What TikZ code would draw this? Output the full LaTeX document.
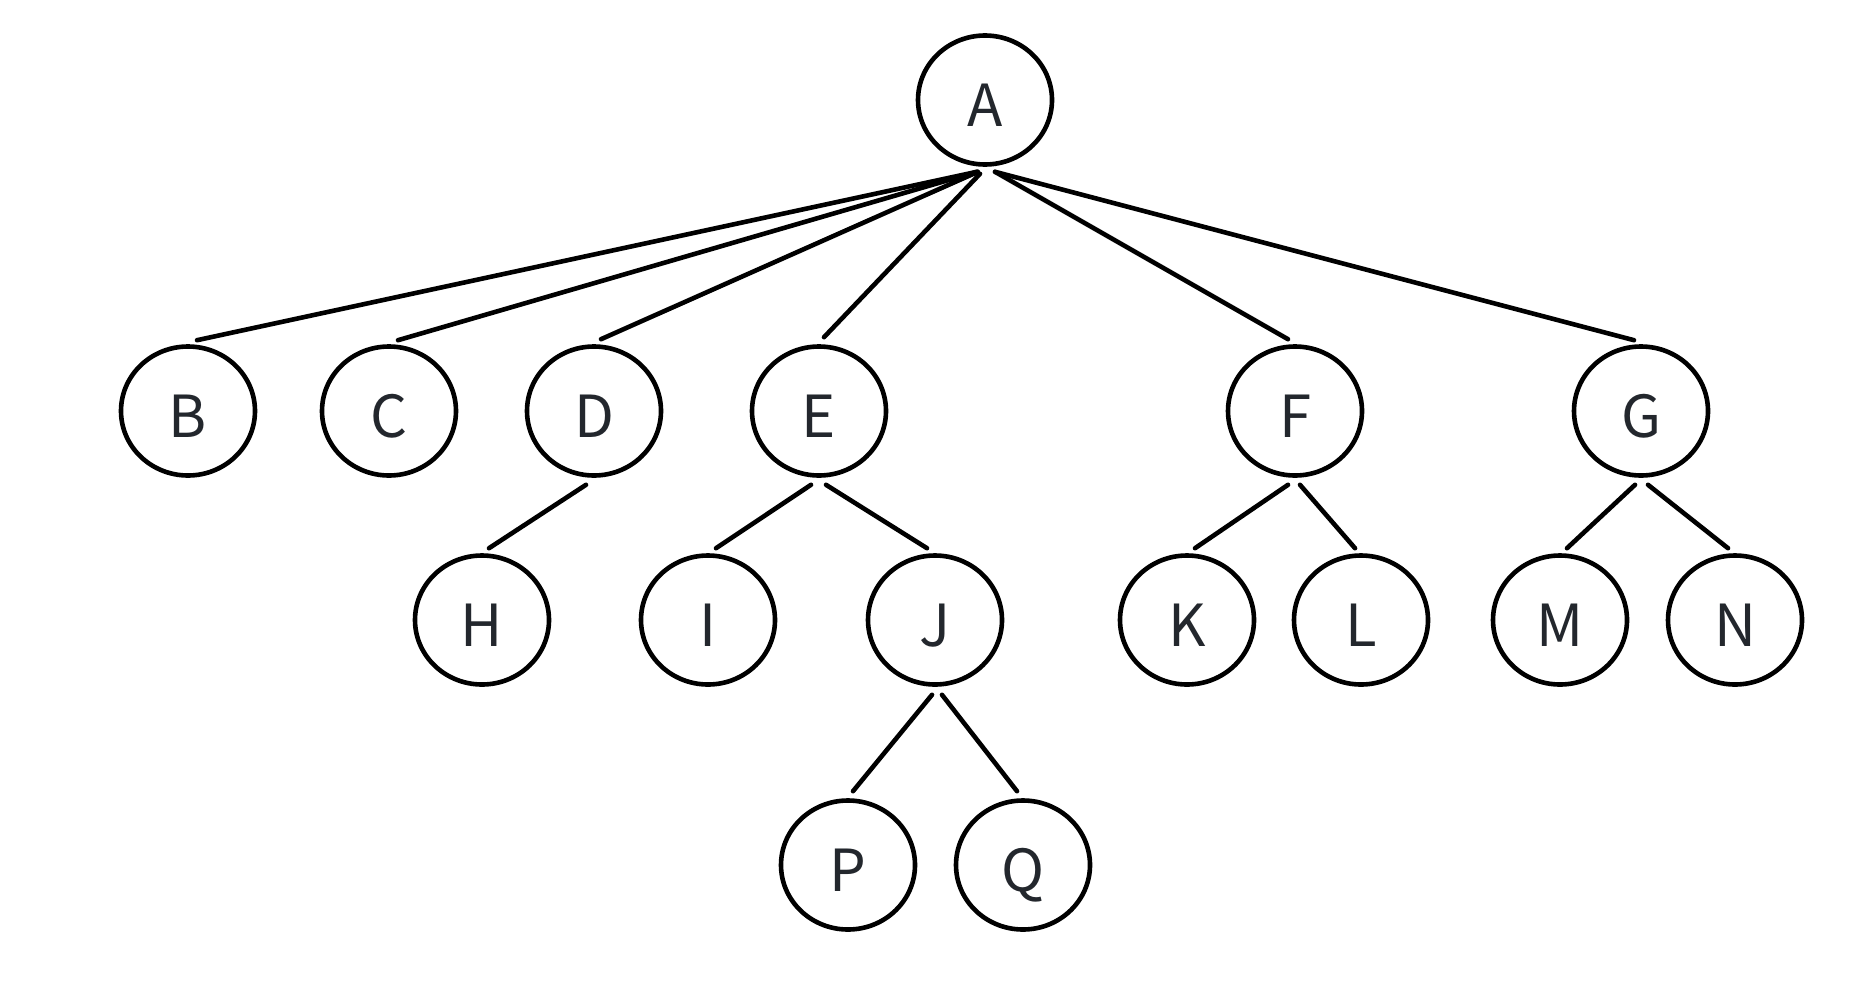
\documentclass[tikz,border=0pt]{standalone}
\usepackage{fontspec}
\newfontfamily\lblfont{Noto Sans CJK SC}
\usetikzlibrary{shapes.geometric}
\definecolor{lblcol}{HTML}{23272D}
\tikzset{
  tnode/.style={ellipse, draw=black, line width=4.6pt, minimum width=134pt, minimum height=129pt,
    inner sep=0pt, text=lblcol, font=\lblfont\fontsize{58}{60}\selectfont,
    text height=52pt, text depth=0pt},
  edge/.style={draw=black, line width=4.6pt, line cap=round}
}
\begin{document}
\begin{tikzpicture}[x=1pt,y=-1pt]
\fill[white] (0,0) rectangle (1870,980);
\useasboundingbox (0,0) rectangle (1870,980);
\node[tnode] (A) at (985,100) {A};
\node[tnode] (B) at (188,411) {B};
\node[tnode] (C) at (389,411) {C};
\node[tnode] (D) at (594,411) {D};
\node[tnode] (E) at (819,411) {E};
\node[tnode] (F) at (1295,411) {F};
\node[tnode] (G) at (1641,411) {G};
\node[tnode] (H) at (482,620) {H};
\node[tnode] (I) at (708,620) {I};
\node[tnode] (J) at (935,620) {J};
\node[tnode] (K) at (1187,620) {K};
\node[tnode] (L) at (1361,620) {L};
\node[tnode] (M) at (1560,620) {M};
\node[tnode] (N) at (1735,620) {N};
\node[tnode] (P) at (848,865) {P};
\node[tnode] (Q) at (1023,865) {Q};
% from A
\draw[edge] ([xshift=-8pt,yshift=-5pt]A.south) -- ([xshift=9pt,yshift=4pt]B.north);
\draw[edge] ([xshift=-8pt,yshift=-5pt]A.south) -- ([xshift=9pt,yshift=4pt]C.north);
\draw[edge] ([xshift=-7pt,yshift=-5pt]A.south) -- ([xshift=7pt,yshift=5pt]D.north);
\draw[edge] ([xshift=-5pt,yshift=-7pt]A.south) -- ([xshift=5pt,yshift=7pt]E.north);
\draw[edge] ([xshift=10pt,yshift=-5pt]A.south) -- ([xshift=-7pt,yshift=5pt]F.north);
\draw[edge] ([xshift=10pt,yshift=-5pt]A.south) -- ([xshift=-7pt,yshift=4pt]G.north);
% second level
\draw[edge] ([xshift=-8pt,yshift=-7pt]D.south) -- ([xshift=7pt,yshift=5pt]H.north);
\draw[edge] ([xshift=-8pt,yshift=-7pt]E.south) -- ([xshift=8pt,yshift=5pt]I.north);
\draw[edge] ([xshift=7pt,yshift=-7pt]E.south) -- ([xshift=-8pt,yshift=5pt]J.north);
\draw[edge] ([xshift=-7pt,yshift=-7pt]F.south) -- ([xshift=8pt,yshift=5pt]K.north);
\draw[edge] ([xshift=5pt,yshift=-7pt]F.south) -- ([xshift=-6pt,yshift=5pt]L.north);
\draw[edge] ([xshift=-6pt,yshift=-7pt]G.south) -- ([xshift=7pt,yshift=5pt]M.north);
\draw[edge] ([xshift=7pt,yshift=-7pt]G.south) -- ([xshift=-7pt,yshift=5pt]N.north);
% third level
\draw[edge] ([xshift=-3pt,yshift=-8pt]J.south) -- ([xshift=5pt,yshift=7pt]P.north);
\draw[edge] ([xshift=7pt,yshift=-8pt]J.south) -- ([xshift=-6pt,yshift=7pt]Q.north);
\end{tikzpicture}
\end{document}
